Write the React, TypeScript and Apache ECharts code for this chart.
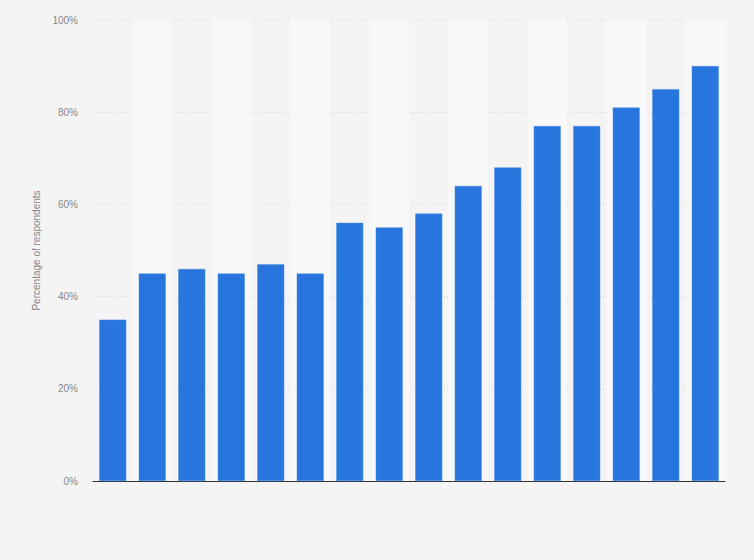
import { useEffect, useRef } from "react";
import * as echarts from "echarts";

// category names are not printed in the reference, so they stay hidden
const categories = [
  "A", "B", "C", "D", "E", "F", "G", "H",
  "I", "J", "K", "L", "M", "N", "O", "P",
];
const shares = [35, 45, 46, 45, 47, 45, 56, 55, 58, 64, 68, 77, 77, 81, 85, 90];
const yTicks = [0, 20, 40, 60, 80, 100];

export default function App() {
  const chartRef = useRef<HTMLDivElement>(null);

  useEffect(() => {
    if (!chartRef.current) return;
    const chart = echarts.init(chartRef.current, null, { renderer: "svg" });

    chart.setOption({
      animation: false,
      backgroundColor: "#f4f4f4",
      textStyle: { fontFamily: "'Liberation Sans', Arial, sans-serif" },
      grid: { left: 93, right: 29, top: 20, bottom: 79 },
      xAxis: {
        type: "category",
        data: categories,
        axisLine: { show: true, lineStyle: { color: "#333", width: 1 } },
        axisTick: { show: false },
        axisLabel: { show: false },
        splitArea: {
          show: true,
          areaStyle: { color: ["rgba(0,0,0,0)", "#f8f8f8"] },
        },
      },
      yAxis: {
        type: "value",
        min: yTicks[0],
        max: yTicks[yTicks.length - 1],
        interval: 20,
        name: "Percentage of respondents",
        nameLocation: "middle",
        nameGap: 48,
        nameTextStyle: { color: "#888", fontSize: 10 },
        axisLine: { show: false },
        axisTick: { show: false },
        axisLabel: {
          color: "#888",
          fontSize: 10,
          margin: 15,
          formatter: (v: number) => v + "%",
        },
        splitLine: {
          lineStyle: { color: "#d6d6d6", type: [1, 2], width: 1 },
        },
      },
      series: [
        {
          type: "bar",
          data: shares,
          barWidth: 27,
          itemStyle: {
            color: "#2876dd",
            borderColor: "#4a8ce3",
            borderWidth: 0.5,
          },
        },
      ],
    });

    return () => {
      chart.dispose();
    };
  }, []);

  return (
    <div
      ref={chartRef}
      style={{ position: "absolute", left: 0, top: 0, width: 754, height: 560 }}
    />
  );
}
